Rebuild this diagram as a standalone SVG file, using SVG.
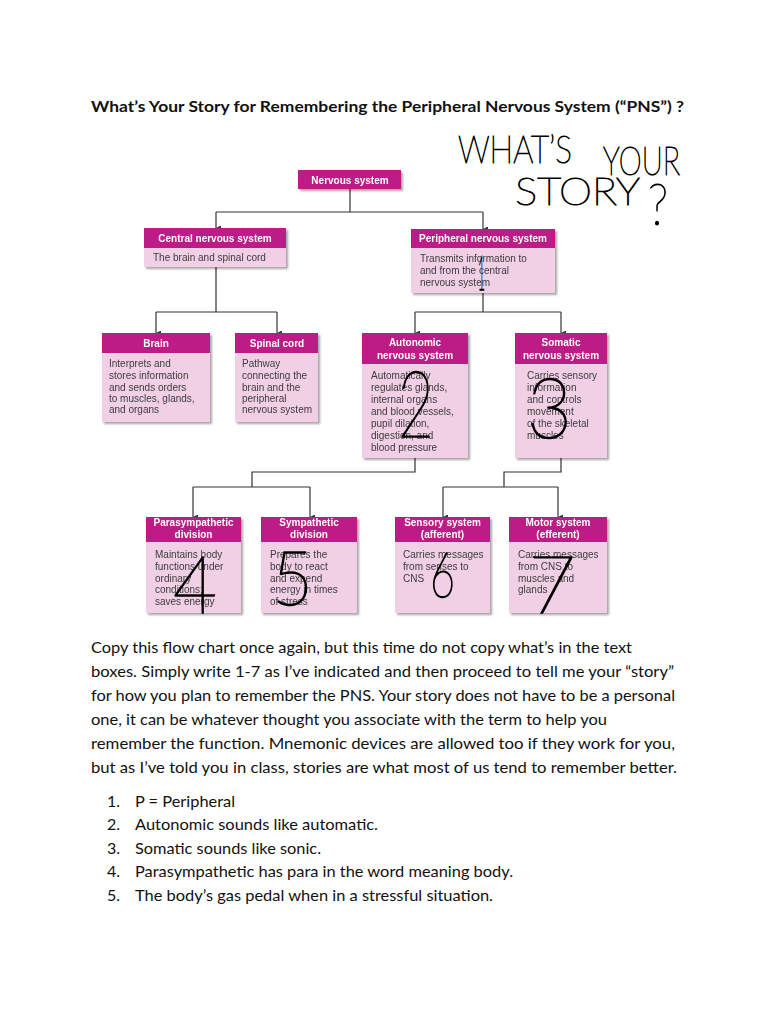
<svg xmlns="http://www.w3.org/2000/svg" width="768" height="1024" viewBox="0 0 768 1024">
<defs>
<filter id="sh" x="-10%" y="-10%" width="130%" height="130%">
<feDropShadow dx="2" dy="2" stdDeviation="1.3" flood-color="#000" flood-opacity="0.35"/>
</filter>
<marker id="ar" viewBox="0 0 6 6" refX="3" refY="6" markerWidth="5" markerHeight="5" orient="auto-start-reverse" markerUnits="userSpaceOnUse">
<path d="M0,0 L6,0 L3,6 Z" fill="#333"/>
</marker>
<style>
.hd{fill:#bd1a87}
.bd{fill:#f1d0e5}
.ht{font-family:"Liberation Sans",Arial,sans-serif;font-size:10px;font-weight:bold;fill:#fff;text-anchor:middle}
.bt{font-family:"Liberation Sans",Arial,sans-serif;font-size:10px;fill:#3c3c3c}
.ln{fill:none;stroke:#333;stroke-width:1.2}
.hw{font-family:Lato,"DejaVu Sans",sans-serif;font-weight:100;fill:#000;stroke:#000;stroke-width:1.1}
.dg{font-family:Lato,"DejaVu Sans",sans-serif;font-weight:100;fill:#000;stroke:#000;stroke-width:1.6}
.tx{font-family:Lato,"Liberation Sans",sans-serif;font-size:16px;fill:#111}
</style>
</defs>
<rect width="768" height="1024" fill="#fff"/>

<text x="91" y="112" font-family="Lato,'Liberation Sans',sans-serif" font-weight="bold" font-size="15.5" fill="#111" textLength="593" lengthAdjust="spacingAndGlyphs">What’s Your Story for Remembering the Peripheral Nervous System (“PNS”) ?</text>

<g id="handwriting">
<text class="hw" x="458" y="163" font-size="38" textLength="114" lengthAdjust="spacingAndGlyphs">WHAT’S</text>
<text class="hw" x="603" y="175" font-size="40" textLength="77" lengthAdjust="spacingAndGlyphs">YOUR</text>
<text class="hw" x="515" y="205" font-size="38" textLength="125" lengthAdjust="spacingAndGlyphs">STORY</text>
<text class="hw" x="648" y="225" font-size="58" textLength="20" lengthAdjust="spacingAndGlyphs">?</text>
</g>

<g id="connectors">
<path class="ln" d="M350,189 V212 M216,212 H483"/>
<path class="ln" d="M216,212 V228" marker-end="url(#ar)"/>
<path class="ln" d="M483,212 V229" marker-end="url(#ar)"/>
<path class="ln" d="M216,267 V312 M156,312 H277"/>
<path class="ln" d="M156,312 V333" marker-end="url(#ar)"/>
<path class="ln" d="M277,312 V333" marker-end="url(#ar)"/>
<path class="ln" d="M483,293 V312 M415,312 H561"/>
<path class="ln" d="M415,312 V333" marker-end="url(#ar)"/>
<path class="ln" d="M561,312 V333" marker-end="url(#ar)"/>
<path class="ln" d="M415,458 V472 H252 V487 M193,487 H310"/>
<path class="ln" d="M193,487 V517" marker-end="url(#ar)"/>
<path class="ln" d="M310,487 V517" marker-end="url(#ar)"/>
<path class="ln" d="M561,458 V472 H504 V487 M443,487 H558"/>
<path class="ln" d="M443,487 V517" marker-end="url(#ar)"/>
<path class="ln" d="M558,487 V517" marker-end="url(#ar)"/>
</g>

<g id="nervous-system" filter="url(#sh)">
<rect class="hd" x="298" y="170" width="103" height="19"/>
<text class="ht" x="350" y="183.5">Nervous system</text>
</g>

<g id="central" filter="url(#sh)">
<rect class="hd" x="144" y="228" width="142" height="20"/>
<rect class="bd" x="144" y="248" width="142" height="19"/>
<text class="ht" x="215" y="241.5">Central nervous system</text>
<text class="bt" x="153" y="261">The brain and spinal cord</text>
</g>

<g id="peripheral" filter="url(#sh)">
<rect class="hd" x="411" y="229" width="144" height="19"/>
<rect class="bd" x="411" y="248" width="144" height="45"/>
<text class="ht" x="483" y="242">Peripheral nervous system</text>
<text class="bt" x="420" y="261.5">Transmits information to</text>
<text class="bt" x="420" y="273.5">and from the central</text>
<text class="bt" x="420" y="285.5">nervous system</text>
</g>

<g id="brain" filter="url(#sh)">
<rect class="hd" x="102" y="333" width="108" height="20"/>
<rect class="bd" x="102" y="353" width="108" height="69"/>
<text class="ht" x="156" y="346.5">Brain</text>
<text class="bt" x="109" y="366.5">Interprets and</text>
<text class="bt" x="109" y="378.5">stores information</text>
<text class="bt" x="109" y="390.5">and sends orders</text>
<text class="bt" x="109" y="401.5">to muscles, glands,</text>
<text class="bt" x="109" y="412.5">and organs</text>
</g>

<g id="spinal-cord" filter="url(#sh)">
<rect class="hd" x="235" y="333" width="83" height="20"/>
<rect class="bd" x="235" y="353" width="83" height="69"/>
<text class="ht" x="277" y="346.5">Spinal cord</text>
<text class="bt" x="242" y="366.5">Pathway</text>
<text class="bt" x="242" y="378.5">connecting the</text>
<text class="bt" x="242" y="390.5">brain and the</text>
<text class="bt" x="242" y="401.5">peripheral</text>
<text class="bt" x="242" y="412.5">nervous system</text>
</g>

<g id="autonomic" filter="url(#sh)">
<rect class="hd" x="362" y="333" width="106" height="31"/>
<rect class="bd" x="362" y="364" width="106" height="94"/>
<text class="ht" x="415" y="345.5">Autonomic</text>
<text class="ht" x="415" y="358.5">nervous system</text>
<text class="bt" x="371" y="378.5">Automatically</text>
<text class="bt" x="371" y="391">regulates glands,</text>
<text class="bt" x="371" y="402.5">internal organs</text>
<text class="bt" x="371" y="414.5">and blood vessels,</text>
<text class="bt" x="371" y="426.5">pupil dilation,</text>
<text class="bt" x="371" y="438.5">digestion, and</text>
<text class="bt" x="371" y="450.5">blood pressure</text>
</g>

<g id="somatic" filter="url(#sh)">
<rect class="hd" x="515" y="333" width="92" height="31"/>
<rect class="bd" x="515" y="364" width="92" height="94"/>
<text class="ht" x="561" y="345.5">Somatic</text>
<text class="ht" x="561" y="358.5">nervous system</text>
<text class="bt" x="527" y="378.5">Carries sensory</text>
<text class="bt" x="527" y="391">information</text>
<text class="bt" x="527" y="402.5">and controls</text>
<text class="bt" x="527" y="414.5">movement</text>
<text class="bt" x="527" y="426.5">of the skeletal</text>
<text class="bt" x="527" y="438.5">muscles</text>
</g>

<g id="parasympathetic" filter="url(#sh)">
<rect class="hd" x="146" y="517" width="95" height="25"/>
<rect class="bd" x="146" y="542" width="95" height="71"/>
<text class="ht" x="193.5" y="526">Parasympathetic</text>
<text class="ht" x="193.5" y="538">division</text>
<text class="bt" x="155" y="557.5">Maintains body</text>
<text class="bt" x="155" y="569.5">functions under</text>
<text class="bt" x="155" y="581.5">ordinary</text>
<text class="bt" x="155" y="592.5">conditions;</text>
<text class="bt" x="155" y="605">saves energy</text>
</g>

<g id="sympathetic" filter="url(#sh)">
<rect class="hd" x="261" y="517" width="96" height="25"/>
<rect class="bd" x="261" y="542" width="96" height="71"/>
<text class="ht" x="309" y="526">Sympathetic</text>
<text class="ht" x="309" y="538">division</text>
<text class="bt" x="270" y="557.5">Prepares the</text>
<text class="bt" x="270" y="569.5">body to react</text>
<text class="bt" x="270" y="581.5">and expend</text>
<text class="bt" x="270" y="592.5">energy in times</text>
<text class="bt" x="270" y="605">of stress</text>
</g>

<g id="sensory" filter="url(#sh)">
<rect class="hd" x="395" y="517" width="95" height="25"/>
<rect class="bd" x="395" y="542" width="95" height="71"/>
<text class="ht" x="442.5" y="526">Sensory system</text>
<text class="ht" x="442.5" y="538">(afferent)</text>
<text class="bt" x="403" y="557.5">Carries messages</text>
<text class="bt" x="403" y="569.5">from senses to</text>
<text class="bt" x="403" y="581.5">CNS</text>
</g>

<g id="motor" filter="url(#sh)">
<rect class="hd" x="509" y="517" width="98" height="25"/>
<rect class="bd" x="509" y="542" width="98" height="71"/>
<text class="ht" x="558" y="526">Motor system</text>
<text class="ht" x="558" y="538">(efferent)</text>
<text class="bt" x="518" y="557.5">Carries messages</text>
<text class="bt" x="518" y="569.5">from CNS to</text>
<text class="bt" x="518" y="581.5">muscles and</text>
<text class="bt" x="518" y="592.5">glands</text>
</g>

<g id="digits">
<text class="dg" x="478" y="290" font-size="48" textLength="7" lengthAdjust="spacingAndGlyphs">1</text>
<text class="dg" x="398" y="437" font-size="93" textLength="36" lengthAdjust="spacingAndGlyphs">2</text>
<text class="dg" x="527" y="438" font-size="85" textLength="45" lengthAdjust="spacingAndGlyphs">3</text>
<text class="dg" x="173" y="613" font-size="80" textLength="44" lengthAdjust="spacingAndGlyphs">4</text>
<text class="dg" x="272" y="605" font-size="76" textLength="41" lengthAdjust="spacingAndGlyphs">5</text>
<text class="dg" x="430" y="597" font-size="62" textLength="25" lengthAdjust="spacingAndGlyphs">6</text>
<text class="dg" x="528" y="613" font-size="80" textLength="48" lengthAdjust="spacingAndGlyphs">7</text>
</g>

<g id="paragraph">
<text class="tx" x="91" y="653" textLength="541" lengthAdjust="spacingAndGlyphs">Copy this flow chart once again, but this time do not copy what’s in the text</text>
<text class="tx" x="91" y="677" textLength="583" lengthAdjust="spacingAndGlyphs">boxes.  Simply write 1-7 as I’ve indicated and then proceed to tell me your “story”</text>
<text class="tx" x="91" y="701" textLength="584" lengthAdjust="spacingAndGlyphs">for how you plan to remember the PNS. Your story does not have to be a personal</text>
<text class="tx" x="91" y="725" textLength="516" lengthAdjust="spacingAndGlyphs">one, it can be whatever thought you associate with the term to help you</text>
<text class="tx" x="91" y="749" textLength="584" lengthAdjust="spacingAndGlyphs">remember the function.  Mnemonic devices are allowed too if they work for you,</text>
<text class="tx" x="91" y="773" textLength="586" lengthAdjust="spacingAndGlyphs">but as I’ve told you in class, stories are what most of us tend to remember better.</text>
</g>

<g id="list">
<text class="tx" x="107" y="807">1.</text><text class="tx" x="135" y="807" textLength="100" lengthAdjust="spacingAndGlyphs">P = Peripheral</text>
<text class="tx" x="107" y="830">2.</text><text class="tx" x="135" y="830" textLength="243" lengthAdjust="spacingAndGlyphs">Autonomic sounds like automatic.</text>
<text class="tx" x="107" y="854">3.</text><text class="tx" x="135" y="854" textLength="186" lengthAdjust="spacingAndGlyphs">Somatic sounds like sonic.</text>
<text class="tx" x="107" y="877">4.</text><text class="tx" x="135" y="877" textLength="378" lengthAdjust="spacingAndGlyphs">Parasympathetic has para in the word meaning body.</text>
<text class="tx" x="107" y="901">5.</text><text class="tx" x="135" y="901" textLength="358" lengthAdjust="spacingAndGlyphs">The body’s gas pedal when in a stressful situation.</text>
</g>
</svg>
